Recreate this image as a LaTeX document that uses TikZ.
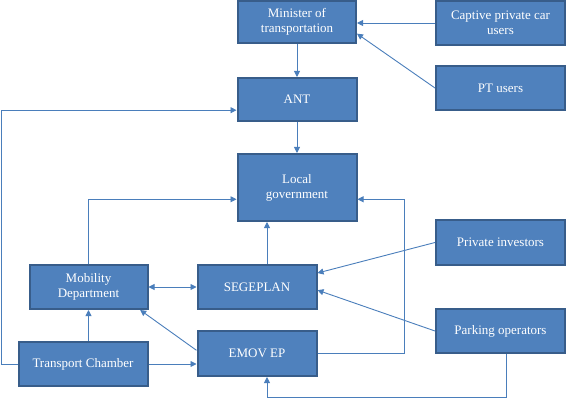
\documentclass[tikz,border=0pt]{standalone}
\usepackage{fontspec}
\setmainfont{Liberation Serif}
\usepackage{tikz}
\usetikzlibrary{positioning,arrows.meta,calc}

\definecolor{boxfill}{HTML}{4F81BD}
\definecolor{boxline}{HTML}{385D8A}
\definecolor{linkline}{HTML}{4A7EBB}

\tikzset{
	actor/.style = {draw = boxline, fill = boxfill, line width = 2pt, text = white,
		minimum width = 118pt, minimum height = 44pt, inner sep = 2pt, align = center,
		font = \fontsize{13}{15}\selectfont},
	wideactor/.style = {actor, minimum width = 129pt},
	tallactor/.style = {actor, minimum width = 119pt, minimum height = 67pt},
	link/.style = {draw = linkline, line width = 0.9pt, -{Triangle[length = 6pt, width = 6pt]}}
}

\begin{document}
\begin{tikzpicture}[x = 1pt, y = -1pt]
	\useasboundingbox (0,0) rectangle (568,401);
	
	\node[actor, minimum height = 42pt](minister) at (297,22){Minister of\\transportation};
	\node[actor, minimum width = 119pt, minimum height = 43pt, below = 33pt of minister](ant){ANT};
	\node[tallactor, below = 31pt of ant](local){Local\\government};
	\node[actor, minimum width = 119pt, below = 42pt of local, xshift = -40pt](segeplan){SEGEPLAN};
	\node[actor, minimum width = 119pt, minimum height = 45pt, below = 20pt of segeplan](emov){EMOV EP};
	\node[actor, left = 48pt of segeplan](mobility){Mobility\\Department};
	\node[wideactor, below = 31pt of mobility, xshift = -5.5pt](transport){Transport Chamber};
	\node[wideactor, right = 78pt of minister, yshift = -1pt](captive){Captive private car\\users};
	\node[wideactor, below = 19pt of captive](ptusers){PT users};
	\node[wideactor, minimum height = 45pt, below = 108pt of ptusers](private){Private investors};
	\node[wideactor, below = 42pt of private](parking){Parking operators};
	
	
	\draw[link] (captive) -- (captive -| minister.east);
	\draw[link] (ptusers.west) -- (minister.-11);
	\draw[link] (minister) -- (ant);
	\draw[link] (ant) -- (local);
	\draw[link] (transport.west) -- ++(-16,0) |- (ant.190);
	\draw[link] (mobility.north) |- (local.191);
	\draw[link] ([xshift = 10pt]segeplan.north) -- ([xshift = 10pt]segeplan.north |- local.south);
	\draw[link, {Triangle[length = 6pt, width = 6pt]}-{Triangle[length = 6pt, width = 6pt]}] (mobility) -- (segeplan);
	\draw[link] (private.west) -- (segeplan.13);
	\draw[link] (parking.west) -- (segeplan.-3);
	\draw[link] (emov.east) -- ++(87,0) |- (local.-11);
	\draw[link] (transport.north -| mobility.south) -- (mobility.south);
	\draw[link] (emov.177) -- (mobility.-24);
	\draw[link] (transport.east) -- (transport.east -| emov.west);
	\draw[link] ([xshift = 5.5pt]parking.south) -- ++(0,43) -| ([xshift = 10pt]emov.south);
	\end{tikzpicture}
\end{document}
